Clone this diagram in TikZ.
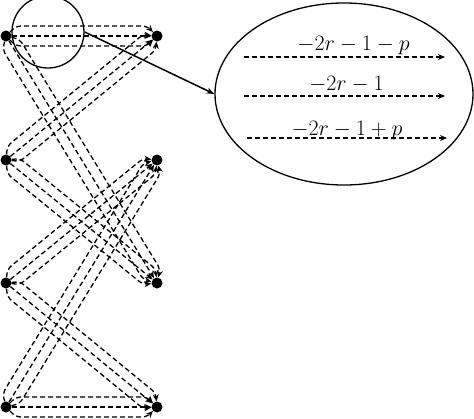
\RequirePackage{fix-cm}
\documentclass[tikz,border=0pt]{standalone}
\usepackage{amsmath}
\usetikzlibrary{shapes.geometric, arrows.meta, calc}

\begin{document}
\begin{tikzpicture}[x=1pt, y=-1pt,
    dot/.style={circle, fill=black, minimum size=11pt, inner sep=0pt},
    flow/.style={dash pattern=on 5pt off 3pt, line width=1.3pt, -{Stealth[length=7pt, width=6pt]}},
    lbl/.style={anchor=base, inner sep=0pt, font=\fontsize{22}{26}\selectfont}]
    \useasboundingbox (0,0) rectangle (474,418);

    % two columns of states
    \foreach \i/\y in {1/36, 2/160, 3/283, 4/407} {
        \node[dot] (l\i) at (6,\y) {};
        \node[dot] (r\i) at (157,\y) {};
    }

    % each transition is a bundle of three paths
    \foreach \a/\b in {l1/r1, l1/r3, l2/r1, l2/r3, l3/r2, l3/r4, l4/r2, l4/r4} {
        \draw[flow] (\a) -- (\b);
        \draw[flow, rounded corners=5pt] (\a) -- ($(\a)!10pt!(\b)!10pt!90:(\b)$) -- ($(\b)!10pt!(\a)!10pt!-90:(\a)$) -- (\b);
        \draw[flow, rounded corners=5pt] (\a) -- ($(\a)!10pt!(\b)!10pt!-90:(\b)$) -- ($(\b)!10pt!(\a)!10pt!90:(\a)$) -- (\b);
    }

    % zoomed view
    \node[draw, circle, line width=1.3pt, minimum size=72pt] (lens) at (48,32) {};
    \node[draw, ellipse, line width=1.3pt, minimum width=258pt, minimum height=182pt] (bubble) at (344,94) {};
    \draw[-{Stealth[length=8pt, width=6pt]}, line width=1.5pt] (lens.east) -- (bubble.west);

    \coordinate (s1) at (244,57);  \coordinate (e1) at (445,57);
    \coordinate (s2) at (244,96);  \coordinate (e2) at (445,96);
    \coordinate (s3) at (247,138); \coordinate (e3) at (447,138);
    \draw[flow] (s1) -- node[lbl, xshift=9pt, yshift=7pt] {$-2r-1-p$} (e1);
    \draw[flow] (s2) -- node[lbl, xshift=2pt, yshift=6pt] {$-2r-1$} (e2);
    \draw[flow] (s3) -- node[lbl, yshift=3pt] {$-2r-1+p$} (e3);
\end{tikzpicture}
\end{document}
